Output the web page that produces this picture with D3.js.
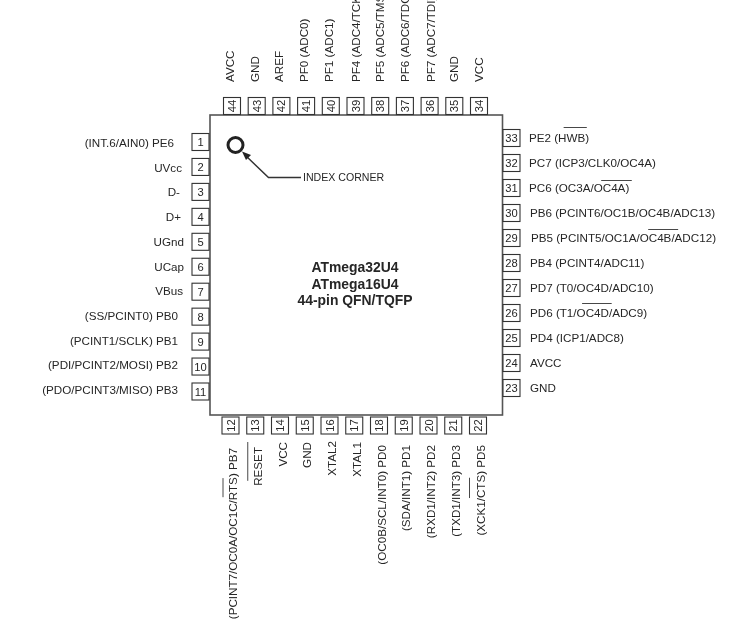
<!DOCTYPE html>
<html>
<head>
<meta charset="utf-8">
<style>
    html, body { margin: 0; padding: 0; background: #fff; }
    svg { display: block; filter: blur(0.45px); }
    text { font-family: "Liberation Sans", Arial, sans-serif; fill: #262626; }
</style>
<script src="https://cdn.jsdelivr.net/npm/d3@7"></script>
</head>
<body>
<svg id="chart" width="732" height="628"></svg>
<script>
// pin numbers and labels per chip side
const leftPins = [1, 2, 3, 4, 5, 6, 7, 8, 9, 10, 11];
const leftLabels = ["(INT.6/AIN0) PE6", "UVcc", "D-", "D+", "UGnd", "UCap", "VBus", "(SS/PCINT0) PB0", "(PCINT1/SCLK) PB1", "(PDI/PCINT2/MOSI) PB2", "(PDO/PCINT3/MISO) PB3"];

const bottomPins = [12, 13, 14, 15, 16, 17, 18, 19, 20, 21, 22];
const bottomLabels = ["(PCINT7/OC0A/OC1C/RTS) PB7", "RESET", "VCC", "GND", "XTAL2", "XTAL1", "(OC0B/SCL/INT0) PD0", "(SDA/INT1) PD1", "(RXD1/INT2) PD2", "(TXD1/INT3) PD3", "(XCK1/CTS) PD5"];

const rightPins = [33, 32, 31, 30, 29, 28, 27, 26, 25, 24, 23];
const rightLabels = ["PE2 (HWB)", "PC7 (ICP3/CLK0/OC4A)", "PC6 (OC3A/OC4A)", "PB6 (PCINT6/OC1B/OC4B/ADC13)", "PB5 (PCINT5/OC1A/OC4B/ADC12)", "PB4 (PCINT4/ADC11)", "PD7 (T0/OC4D/ADC10)", "PD6 (T1/OC4D/ADC9)", "PD4 (ICP1/ADC8)", "AVCC", "GND"];

const topPins = [44, 43, 42, 41, 40, 39, 38, 37, 36, 35, 34];
const topLabels = ["AVCC", "GND", "AREF", "PF0 (ADC0)", "PF1 (ADC1)", "PF4 (ADC4/TCK)", "PF5 (ADC5/TMS)", "PF6 (ADC6/TDO)", "PF7 (ADC7/TDI)", "GND", "VCC"];

// active low signals, drawn with a bar over them
const barPins = [33, 31, 29, 26, 12, 13, 22];
const barTexts = ["HWB", "OC4A)", "OC4B/", "OC4D/", "RTS", "RESET", "CTS"];

const titleLines = ["ATmega32U4", "ATmega16U4", "44-pin QFN/TQFP"];
const indexLabel = "INDEX CORNER";

const svg = d3.select("#chart");

const chip = { left: 210, right: 502.5, top: 115, bottom: 415 };
const boxSize = 17;
const labelSize = 11.65;
const numSize = 11.2;

// one scale per side, the sides are a bit offset from each other in the drawing
const yLeft = d3.scalePoint().domain(leftPins).range([142, 391.5]);
const yRight = d3.scalePoint().domain(rightPins).range([138, 388]);
const xTop = d3.scalePoint().domain(topPins).range([232, 479]);
const xBottom = d3.scalePoint().domain(bottomPins).range([230.5, 478]);

// left label baselines drift a little against the boxes
const yLeftText = d3.scalePoint().domain(leftPins).range([147, 394]);

// hand placed label offsets, they are not aligned in the original
const leftEnds = [174, 182, 180, 181, 184, 184, 183, 178, 178, 178, 178];
const rightStarts = [529, 529, 529, 530, 531, 530, 530, 530, 530, 530, 530];
const bottomEnds = [448, 447, 442, 442, 441, 442, 445, 445, 445, 445, 445];
const topShift = [2, 2, 2, 2, 2, 4.5, 4, 4, 5, 4, 4];

// the bars sit loose on the text in the original
const barLifts = [14, 11, 12, 13, 14, 14, 15];
const barStartShift = [5.5, 7.5, 8.5, 5.5, 3, 5, 0];
const barEndShift = [1.5, 2.5, 3.5, -0.5, -1, 5, -3];

svg.append("rect")
    .attr("x", chip.left)
    .attr("y", chip.top)
    .attr("width", chip.right - chip.left)
    .attr("height", chip.bottom - chip.top)
    .attr("fill", "#fff")
    .attr("stroke", "#555")
    .attr("stroke-width", 1.6);

function drawBoxes(pins, cx, cy, rotated) {
    const g = svg.append("g");
    g.selectAll("rect")
        .data(pins)
        .enter()
        .append("rect")
        .attr("x", d => cx(d) - boxSize / 2)
        .attr("y", d => cy(d) - boxSize / 2)
        .attr("width", boxSize)
        .attr("height", boxSize)
        .attr("fill", "#fff")
        .attr("stroke", "#333")
        .attr("stroke-width", 1.1);

    g.selectAll("text")
        .data(pins)
        .enter()
        .append("text")
        .attr("transform", d => `translate(${cx(d)},${cy(d)})` + (rotated ? " rotate(-90)" : ""))
        .attr("text-anchor", "middle")
        .attr("dy", "0.36em")
        .attr("font-size", numSize)
        .text(d => d);
}

drawBoxes(leftPins, () => chip.left - 9.5, yLeft, false);
drawBoxes(rightPins, () => chip.right + 9, yRight, false);
drawBoxes(topPins, xTop, () => chip.top - 9, true);
drawBoxes(bottomPins, xBottom, () => chip.bottom + 10.5, true);

// draws a label, then the bar over the active low part of it
function drawLabel(pin, label, transform, anchor) {
    const t = svg.append("text")
        .attr("transform", transform)
        .attr("text-anchor", anchor)
        .attr("font-size", labelSize)
        .text(label);

    const i = barPins.indexOf(pin);
    if (i < 0) return;

    const start = label.indexOf(barTexts[i]);
    const node = t.node();
    const from = node.getSubStringLength(0, start);
    const len = node.getSubStringLength(start, barTexts[i].length);
    const offset = anchor === "end" ? -node.getComputedTextLength() : 0;

    svg.append("line")
        .attr("transform", transform)
        .attr("x1", offset + from + barStartShift[i])
        .attr("x2", offset + from + len + barEndShift[i])
        .attr("y1", -barLifts[i])
        .attr("y2", -barLifts[i])
        .attr("stroke", "#333")
        .attr("stroke-width", 0.9);
}

leftPins.forEach((p, i) => {
    drawLabel(p, leftLabels[i], `translate(${leftEnds[i]},${yLeftText(p)})`, "end");
});
rightPins.forEach((p, i) => {
    drawLabel(p, rightLabels[i], `translate(${rightStarts[i]},${yRight(p) + 3.5})`, "start");
});
topPins.forEach((p, i) => {
    drawLabel(p, topLabels[i], `translate(${xTop(p) + topShift[i]},82) rotate(-90)`, "start");
});
bottomPins.forEach((p, i) => {
    drawLabel(p, bottomLabels[i], `translate(${xBottom(p) + 6.5},${bottomEnds[i]}) rotate(-90)`, "end");
});

// index corner mark with its arrow
svg.append("circle")
    .attr("cx", 235.5)
    .attr("cy", 145)
    .attr("r", 7.5)
    .attr("fill", "none")
    .attr("stroke", "#222")
    .attr("stroke-width", 3);

svg.append("path")
    .attr("d", d3.line()([[301, 177.5], [268.5, 177.5], [245, 155]]))
    .attr("fill", "none")
    .attr("stroke", "#333")
    .attr("stroke-width", 1.5);

svg.append("path")
    .attr("d", d3.line()([[242, 151.5], [251, 155], [246, 160]]) + "Z")
    .attr("fill", "#222");

svg.append("text")
    .attr("x", 303)
    .attr("y", 181)
    .attr("font-size", 10.6)
    .text(indexLabel);

svg.selectAll(".title")
    .data(titleLines)
    .enter()
    .append("text")
    .attr("class", "title")
    .attr("x", 355)
    .attr("y", (d, i) => 272 + i * 16.5)
    .attr("text-anchor", "middle")
    .attr("font-size", 13.9)
    .attr("font-weight", "bold")
    .text(d => d);
</script>
</body>
</html>
